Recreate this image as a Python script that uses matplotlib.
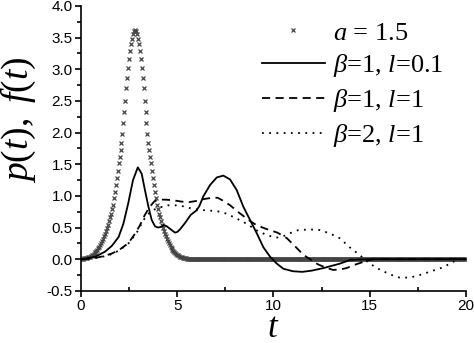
import numpy as np
import matplotlib
matplotlib.use('Agg')
import matplotlib.pyplot as plt
from matplotlib.ticker import MultipleLocator

plt.rcParams['font.family'] = 'Liberation Sans'
plt.rcParams['mathtext.fontset'] = 'custom'
plt.rcParams['mathtext.rm'] = 'Liberation Serif'
plt.rcParams['mathtext.it'] = 'Liberation Serif:italic'

# p(t) for a = 1.5, sampled every 0.05 from t = 0
p_peak = [0.005, 0.007, 0.01, 0.012, 0.015, 0.018, 0.02, 0.027, 0.035, 0.042,
          0.05, 0.06, 0.07, 0.085, 0.10, 0.115, 0.13, 0.15, 0.17, 0.19,
          0.22, 0.25, 0.28, 0.32, 0.36, 0.40, 0.44, 0.49, 0.54, 0.60,
          0.66, 0.72, 0.79, 0.86, 0.96, 1.06, 1.17, 1.28, 1.40, 1.52,
          1.62, 1.72, 1.84, 1.98, 2.15, 2.32, 2.50, 2.70, 2.86, 3.02,
          3.16, 3.28, 3.40, 3.48, 3.55, 3.60, 3.62,
          3.60, 3.55, 3.48, 3.40, 3.28, 3.16, 3.02, 2.86, 2.70, 2.50,
          2.32, 2.15, 1.98, 1.84, 1.72, 1.62, 1.52, 1.40, 1.28, 1.17,
          1.06, 0.96, 0.86, 0.79, 0.72, 0.66, 0.60, 0.54, 0.49, 0.44,
          0.40, 0.36, 0.32, 0.28, 0.25, 0.22, 0.19, 0.17, 0.15, 0.13,
          0.115, 0.10, 0.085, 0.07, 0.06, 0.05, 0.042, 0.035, 0.027, 0.02,
          0.018, 0.015, 0.012, 0.01, 0.007, 0.005]
p_tail = [0.0] * (401 - len(p_peak))
t_p = np.linspace(0, 20, 401)
p_a = np.array(p_peak + p_tail)

# f(t), beta=1, l=0.1
t1 = [0, 0.25, 0.75, 1.25, 1.6, 1.95, 2.2, 2.45, 2.7, 2.95, 3.15, 3.32, 3.5,
      3.67, 3.84, 4.0, 4.15, 4.3, 4.45, 4.62, 4.88, 5.0, 5.14, 5.4, 5.7, 6.0,
      6.15, 6.35, 6.7, 7.05, 7.39, 7.74, 8.09, 8.43, 8.78, 9.13, 9.47, 9.82,
      10.17, 10.51, 11.0, 11.5, 12.0, 12.6, 13.45, 14.0, 15.0, 20.0]
f1 = [0, 0.01, 0.04, 0.12, 0.21, 0.35, 0.56, 0.88, 1.25, 1.45, 1.35, 1.09, 0.83,
      0.62, 0.52, 0.50, 0.51, 0.54, 0.52, 0.48, 0.42, 0.43, 0.47, 0.57, 0.70, 0.77,
      0.84, 0.99, 1.17, 1.29, 1.32, 1.26, 1.09, 0.83, 0.62, 0.41, 0.19, 0.04,
      -0.07, -0.15, -0.19, -0.20, -0.18, -0.14, -0.07, -0.01, 0.0, 0.0]

# f(t), beta=1, l=1
t2 = [0, 0.5, 0.9, 1.2, 1.6, 1.95, 2.45, 2.8, 3.05, 3.3, 3.55, 3.8, 4.0, 4.4,
      4.8, 5.2, 5.6, 6.0, 6.4, 6.8, 7.1, 7.4, 7.75, 8.1, 8.4, 8.7, 9.1, 9.6,
      10.2, 10.7, 11.1, 11.55, 11.9, 12.3, 12.7, 13.1, 13.5, 13.8, 14.2, 14.5,
      14.85, 15.2, 20.0]
f2 = [0, 0.01, 0.03, 0.05, 0.09, 0.14, 0.25, 0.40, 0.53, 0.69, 0.82, 0.91, 0.94, 0.94,
      0.93, 0.91, 0.90, 0.92, 0.95, 0.97, 0.97, 0.92, 0.85, 0.76, 0.69, 0.62, 0.54, 0.48,
      0.42, 0.33, 0.21, 0.07, 0.0, -0.08, -0.13, -0.17, -0.16, -0.14, -0.09, -0.06,
      -0.02, 0.0, 0.0]

# f(t), beta=2, l=1
t3 = [0, 0.5, 1.0, 1.5, 2.0, 2.5, 2.8, 3.0, 3.2, 3.45, 3.7, 4.0, 4.5, 5.1, 5.5,
      5.85, 6.5, 7.05, 7.55, 8.1, 8.6, 9.1, 9.65, 10.15, 10.5, 10.85, 11.3, 11.9,
      12.4, 12.9, 13.45, 13.95, 14.5, 15.0, 15.5, 16.05, 16.55, 17.1, 17.6, 18.1,
      18.8, 19.35, 19.6, 20.0]
f3 = [0, 0.01, 0.03, 0.07, 0.14, 0.26, 0.38, 0.47, 0.60, 0.70, 0.77, 0.81, 0.85, 0.85, 0.82,
      0.79, 0.77, 0.76, 0.72, 0.64, 0.56, 0.46, 0.38, 0.34, 0.36, 0.41, 0.46, 0.47,
      0.46, 0.41, 0.33, 0.19, 0.06, -0.07, -0.16, -0.24, -0.29, -0.29, -0.25, -0.20,
      -0.13, -0.04, 0.0, 0.0]

fig = plt.figure(figsize=(4.74, 3.43), dpi=100)
ax = fig.add_axes([0.171, 0.152, 0.812, 0.831])

ax.plot(t_p, p_a, linestyle='none', marker='x', markersize=3.5,
        markeredgewidth=0.9, color='#444444', label=r'$a$ = 1.5')
ax.plot(t1, f1, color='black', linewidth=1.3, label=r'$\beta$=1, $l$=0.1')
ax.plot(t2, f2, color='black', linewidth=1.3, dashes=(4.5, 3),
        label=r'$\beta$=1, $l$=1')
ax.plot(t3, f3, color='black', linewidth=1.3, dashes=(1, 3),
        label=r'$\beta$=2, $l$=1')

ax.set_xlim(0, 20)
ax.set_ylim(-0.5, 4.0)
ax.xaxis.set_major_locator(MultipleLocator(5))
ax.xaxis.set_minor_locator(MultipleLocator(2.5))
ax.yaxis.set_major_locator(MultipleLocator(0.5))
ax.yaxis.set_minor_locator(MultipleLocator(0.25))
ax.set_yticklabels(['%.1f' % v for v in ax.get_yticks()])

for s in ['top', 'right']:
    ax.spines[s].set_visible(False)
for s in ['left', 'bottom']:
    ax.spines[s].set_linewidth(1.2)

ax.tick_params(axis='both', which='major', direction='out', length=4, width=1.2,
               labelsize=11, pad=2)
ax.tick_params(axis='x', which='minor', direction='in', length=3, width=1.2)
ax.tick_params(axis='y', which='minor', direction='out', length=3, width=1.2)

ax.set_xlabel(r'$t$', fontsize=25)
ax.xaxis.set_label_coords(0.5, -0.07)
ax.set_ylabel(r'$p(t),\ f(t)$', fontsize=27)
ax.yaxis.set_label_coords(-0.112, 0.6)

leg = ax.legend(loc='upper right', bbox_to_anchor=(0.955, 0.965), frameon=False,
                prop={'family': 'Liberation Serif', 'size': 19},
                handlelength=2.4, handletextpad=0.3, labelspacing=0.3,
                borderaxespad=0.0, borderpad=0.2, markerscale=0.8)

fig.savefig('out.png', dpi=100)
